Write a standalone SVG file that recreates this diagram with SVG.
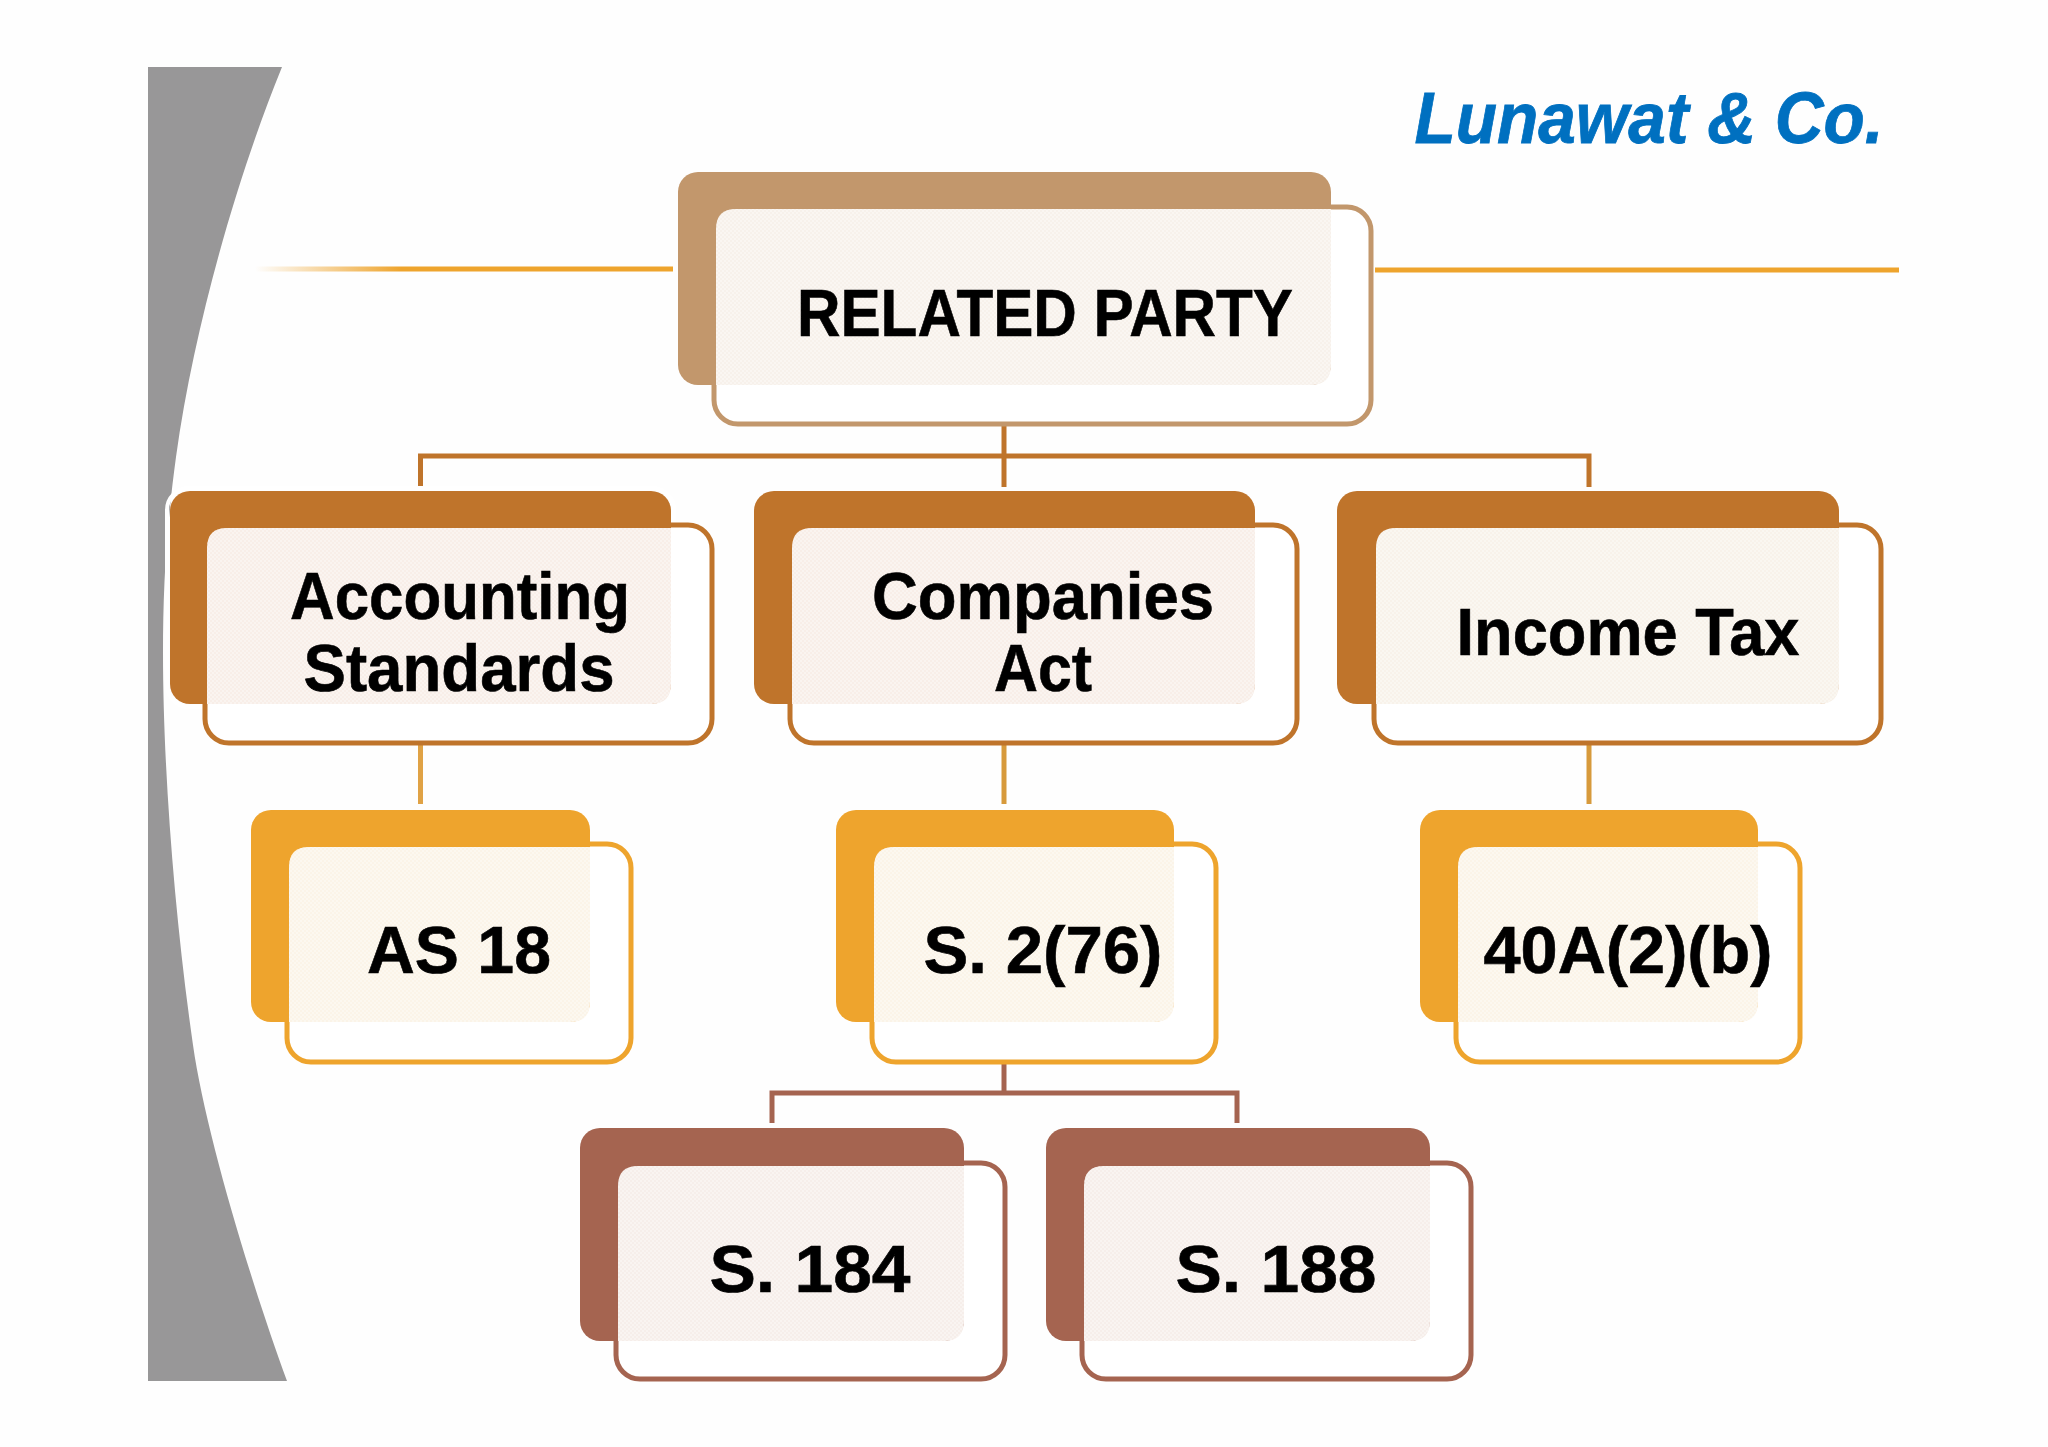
<svg xmlns="http://www.w3.org/2000/svg" width="2048" height="1447" viewBox="0 0 2048 1447">
<style>
.t{font-family:"Liberation Sans",Arial,sans-serif;font-weight:700;fill:#000;text-anchor:middle;stroke:#000;stroke-width:.6}
.card{fill:#fff;stroke-width:5}
.conn{fill:none;stroke-width:5}
.c-root{fill:#c2976c}.s-root{stroke:#c2976c}
.c-a{fill:#bf742b}.s-a{stroke:#bf742b}
.c-b{fill:#eea42d}.s-b{stroke:#eea42d}
.c-c{fill:#a56450}.s-c{stroke:#a56450}
.tex{fill:url(#dots)}
</style>
<defs>
<pattern id="dots" width="4" height="4" patternUnits="userSpaceOnUse"><path d="M0 0h2v2H0zM2 2h2v2H2z" fill="#fff" fill-opacity=".35"/></pattern>
<linearGradient id="fade" gradientUnits="userSpaceOnUse" x1="255" x2="673" y1="0" y2="0"><stop offset="0" stop-color="#eea42d" stop-opacity="0"/><stop offset=".35" stop-color="#eea42d"/></linearGradient>
</defs>
<rect width="2048" height="1447" fill="#fefefe"/>
<path id="gray-band" d="M148 67H282C240 170 195 320 176 457C166 530 163 590 163 653C163 770 175 920 193 1045C205 1130 250 1280 287 1381H148Z" fill="#989798"/>
<g id="connectors">
<path class="conn" stroke="#bf742b" d="M1004 425V456M420.500 487V456H1589V487M1004 456V487"/>
<path class="conn" stroke="url(#fade)" d="M255 269H673"/>
<path class="conn" stroke="#eea42d" d="M1375 270H1899"/>
<path class="conn" stroke="#e0a245" d="M420.500 743V804"/>
<path class="conn" stroke="#d79a3c" d="M1004 743V804"/>
<path class="conn" stroke="#d79a3c" d="M1589 743V804"/>
<path class="conn" stroke="#a56450" d="M1004 1062V1093M772 1123V1093H1237V1123"/>
</g>
<g id="node-root">
<rect class="card s-root" x="714" y="207" width="657" height="217" rx="24"/>
<rect class="c-root" x="678" y="172" width="653" height="213" rx="20"/>
<path fill="#f7f1eb" d="M716 385V229Q716 209 736 209H1331V365Q1331 385 1311 385Z"/>
<path class="tex" d="M716 385V229Q716 209 736 209H1331V365Q1331 385 1311 385Z"/>
<text class="t" x="1045" y="336" font-size="66" textLength="496" lengthAdjust="spacingAndGlyphs">RELATED PARTY</text>
</g>
<g id="node-as">
<rect x="167" y="488" width="507" height="219" rx="22" fill="none" stroke="#fff" stroke-width="4"/>
<rect class="card s-a" x="205" y="525" width="507" height="218" rx="24"/>
<rect class="c-a" x="170" y="491" width="501" height="213" rx="20"/>
<path fill="#f8eee8" d="M207 704V548Q207 528 227 528H671V684Q671 704 651 704Z"/>
<path class="tex" d="M207 704V548Q207 528 227 528H671V684Q671 704 651 704Z"/>
<text class="t" x="460" y="619" font-size="66" textLength="340" lengthAdjust="spacingAndGlyphs">Accounting</text>
<text class="t" x="459" y="691" font-size="66" textLength="311" lengthAdjust="spacingAndGlyphs">Standards</text>
</g>
<g id="node-ca">
<rect class="card s-a" x="790" y="525" width="507" height="218" rx="24"/>
<rect class="c-a" x="754" y="491" width="501" height="213" rx="20"/>
<path fill="#f8eee8" d="M792 704V548Q792 528 812 528H1255V684Q1255 704 1235 704Z"/>
<path class="tex" d="M792 704V548Q792 528 812 528H1255V684Q1255 704 1235 704Z"/>
<text class="t" x="1043" y="619" font-size="66" textLength="342" lengthAdjust="spacingAndGlyphs">Companies</text>
<text class="t" x="1043" y="691" font-size="66" textLength="98" lengthAdjust="spacingAndGlyphs">Act</text>
</g>
<g id="node-it">
<rect class="card s-a" x="1374" y="525" width="507" height="218" rx="24"/>
<rect class="c-a" x="1337" y="491" width="502" height="213" rx="20"/>
<path fill="#f8f2ea" d="M1376 704V548Q1376 528 1396 528H1839V684Q1839 704 1819 704Z"/>
<path class="tex" d="M1376 704V548Q1376 528 1396 528H1839V684Q1839 704 1819 704Z"/>
<text class="t" x="1628" y="655" font-size="66" textLength="343" lengthAdjust="spacingAndGlyphs">Income Tax</text>
</g>
<g id="node-as18">
<rect class="card s-b" x="287" y="844" width="344" height="218" rx="24"/>
<rect class="c-b" x="251" y="810" width="339" height="212" rx="20"/>
<path fill="#fbf4e8" d="M289 1022V867Q289 847 309 847H590V1002Q590 1022 570 1022Z"/>
<path class="tex" d="M289 1022V867Q289 847 309 847H590V1002Q590 1022 570 1022Z"/>
<text class="t" x="459" y="973" font-size="66" textLength="184" lengthAdjust="spacingAndGlyphs">AS 18</text>
</g>
<g id="node-s276">
<rect class="card s-b" x="872" y="844" width="344" height="218" rx="24"/>
<rect class="c-b" x="836" y="810" width="338" height="212" rx="20"/>
<path fill="#fbf4e8" d="M874 1022V867Q874 847 894 847H1174V1002Q1174 1022 1154 1022Z"/>
<path class="tex" d="M874 1022V867Q874 847 894 847H1174V1002Q1174 1022 1154 1022Z"/>
<text class="t" x="1043" y="973" font-size="66" textLength="239" lengthAdjust="spacingAndGlyphs">S. 2(76)</text>
</g>
<g id="node-40a">
<rect class="card s-b" x="1456" y="844" width="344" height="218" rx="24"/>
<rect class="c-b" x="1420" y="810" width="338" height="212" rx="20"/>
<path fill="#fbf4e8" d="M1458 1022V867Q1458 847 1478 847H1758V1002Q1758 1022 1738 1022Z"/>
<path class="tex" d="M1458 1022V867Q1458 847 1478 847H1758V1002Q1758 1022 1738 1022Z"/>
<text class="t" x="1628" y="973" font-size="66" textLength="289" lengthAdjust="spacingAndGlyphs">40A(2)(b)</text>
</g>
<g id="node-s184">
<rect class="card s-c" x="616" y="1163" width="389" height="216" rx="24"/>
<rect class="c-c" x="580" y="1128" width="384" height="213" rx="20"/>
<path fill="#f6eeea" d="M618 1341V1186Q618 1166 638 1166H964V1321Q964 1341 944 1341Z"/>
<path class="tex" d="M618 1341V1186Q618 1166 638 1166H964V1321Q964 1341 944 1341Z"/>
<text class="t" x="810" y="1292" font-size="66" textLength="201" lengthAdjust="spacingAndGlyphs">S. 184</text>
</g>
<g id="node-s188">
<rect class="card s-c" x="1082" y="1163" width="389" height="216" rx="24"/>
<rect class="c-c" x="1046" y="1128" width="384" height="213" rx="20"/>
<path fill="#f6eeea" d="M1084 1341V1186Q1084 1166 1104 1166H1430V1321Q1430 1341 1410 1341Z"/>
<path class="tex" d="M1084 1341V1186Q1084 1166 1104 1166H1430V1321Q1430 1341 1410 1341Z"/>
<text class="t" x="1276" y="1292" font-size="66" textLength="201" lengthAdjust="spacingAndGlyphs">S. 188</text>
</g>
<text id="logo" x="1649" y="143" font-family="Liberation Sans,Arial,sans-serif" font-weight="700" font-style="italic" font-size="72" fill="#0070c0" stroke="#0070c0" stroke-width=".8" text-anchor="middle" textLength="469" lengthAdjust="spacingAndGlyphs">Lunawat &amp; Co.</text>
</svg>
